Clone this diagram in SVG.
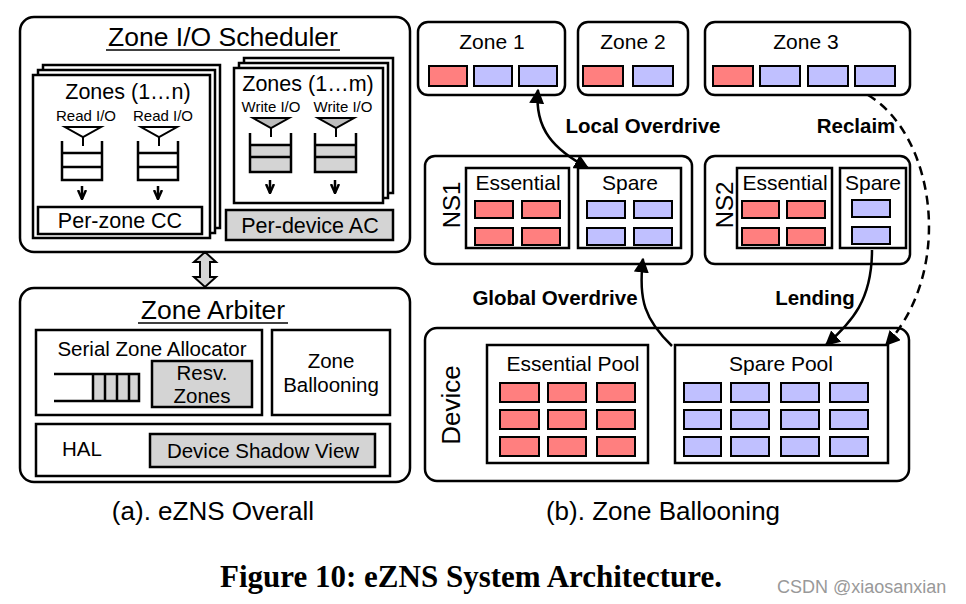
<svg xmlns="http://www.w3.org/2000/svg" width="966" height="604" viewBox="0 0 966 604">
<style>
text{font-family:"Liberation Sans",Arial,sans-serif;fill:#000}
.b{fill:#fff;stroke:#000;stroke-width:2.5}
.g{fill:#d4d4d4;stroke:#000;stroke-width:2.5}
.r{fill:#ff7f7f;stroke:#000;stroke-width:2}
.u{fill:#c0c0ff;stroke:#000;stroke-width:2}
.ln{fill:none;stroke:#000;stroke-width:2.5}
.c{text-anchor:middle}
.bd{font-weight:bold;font-size:20.5px}
</style>
<defs>
<marker id="ah" viewBox="0 0 10 10" refX="9" refY="5" markerWidth="6" markerHeight="6" orient="auto-start-reverse"><path d="M0,0L10,5L0,10z" fill="#000"/></marker>
<marker id="sa" viewBox="0 0 10 10" refX="9" refY="5" markerWidth="4" markerHeight="4" orient="auto"><path d="M0,1L9,5L0,9" fill="none" stroke="#000" stroke-width="2.5"/></marker>
</defs>
<rect width="966" height="604" fill="#fff"/>

<g id="scheduler">
<rect class="b" x="20" y="17" width="390" height="235" rx="14"/>
<text class="c" x="223" y="46" font-size="26.5">Zone I/O Scheduler</text>
<line x1="106" y1="50" x2="340" y2="50" stroke="#000" stroke-width="1.5"/>
<rect class="b" x="43" y="65" width="177" height="163"/>
<rect class="b" x="38" y="70" width="177" height="163"/>
<rect class="b" x="33" y="75" width="177" height="163"/>
<text class="c" x="128" y="99" font-size="21.5">Zones (1…n)</text>
<text class="c" x="86" y="121" font-size="15">Read I/O</text>
<text class="c" x="163" y="121" font-size="15">Read I/O</text>
<path d="M65,127H101L83,137z M83,137V146" fill="#fff" stroke="#000" stroke-width="2"/>
<path d="M141,127H177L159,137z M159,137V146" fill="#fff" stroke="#000" stroke-width="2"/>
<path d="M62,141V180H102V141 M62,153H102 M62,167H102" class="ln"/>
<path d="M138,141V180H178V141 M138,153H178 M138,167H178" class="ln"/>
<line x1="82" y1="186" x2="82" y2="199" class="ln" marker-end="url(#sa)"/>
<line x1="158" y1="186" x2="158" y2="199" class="ln" marker-end="url(#sa)"/>
<rect class="b" x="38" y="207" width="164" height="27"/>
<text class="c" x="120" y="228" font-size="21.5">Per-zone CC</text>
<rect class="b" x="244" y="58" width="149" height="135"/>
<rect class="b" x="239" y="63" width="149" height="135"/>
<rect class="b" x="234" y="68" width="149" height="135"/>
<text class="c" x="308" y="91" font-size="21.5">Zones (1…m)</text>
<text class="c" x="271" y="112" font-size="15">Write I/O</text>
<text class="c" x="343" y="112" font-size="15">Write I/O</text>
<path d="M253,118H289L271,128z M271,128V137" fill="#bdbdbd" stroke="#000" stroke-width="2"/>
<path d="M318,118H354L336,128z M336,128V137" fill="#bdbdbd" stroke="#000" stroke-width="2"/>
<rect x="250" y="145" width="41" height="27" fill="#d4d4d4"/>
<rect x="315" y="145" width="41" height="27" fill="#d4d4d4"/>
<path d="M250,133V172H291V133 M250,145H291 M250,157H291" class="ln"/>
<path d="M315,133V172H356V133 M315,145H356 M315,157H356" class="ln"/>
<line x1="270" y1="180" x2="270" y2="193" class="ln" marker-end="url(#sa)"/>
<line x1="335" y1="180" x2="335" y2="193" class="ln" marker-end="url(#sa)"/>
<rect class="g" x="226" y="210" width="167" height="30"/>
<text class="c" x="310" y="233" font-size="21.5">Per-device AC</text>
</g>

<g id="dblarrow">
<path d="M205,252L216,262H210V277H216L205,287L194,277H200V262H194z" fill="#d4d4d4" stroke="#000" stroke-width="2"/>
</g>

<g id="arbiter">
<rect class="b" x="20" y="288" width="390" height="194" rx="14"/>
<text class="c" x="213" y="319" font-size="26.5">Zone Arbiter</text>
<line x1="138" y1="323" x2="288" y2="323" stroke="#000" stroke-width="1.5"/>
<rect class="b" x="36" y="330" width="226" height="85"/>
<text class="c" x="152" y="356" font-size="20.5">Serial Zone Allocator</text>
<rect x="93" y="374" width="46" height="27" fill="#d4d4d4"/>
<path d="M54,374H139V401H54 M93,374V401 M105,374V401 M117,374V401 M129,374V401" class="ln"/>
<rect class="g" x="152" y="361" width="100" height="46"/>
<text class="c" x="202" y="380" font-size="20.5">Resv.</text>
<text class="c" x="202" y="403" font-size="20.5">Zones</text>
<rect class="b" x="272" y="330" width="118" height="85"/>
<text class="c" x="331" y="368" font-size="20.5">Zone</text>
<text class="c" x="331" y="392" font-size="20.5">Ballooning</text>
<rect class="b" x="36" y="424" width="354" height="52"/>
<text class="c" x="82" y="456" font-size="20.5">HAL</text>
<rect class="g" x="150" y="434" width="225" height="33"/>
<text class="c" x="263" y="458" font-size="20.5">Device Shadow View</text>
</g>

<g id="zone1">
<rect class="b" x="418" y="22" width="147" height="73" rx="10"/>
<text class="c" x="492" y="49" font-size="21">Zone 1</text>
<rect class="r" x="429" y="66" width="38" height="20"/><rect class="u" x="474" y="66" width="38" height="20"/><rect class="u" x="519" y="66" width="38" height="20"/>
</g>
<g id="zone2">
<rect class="b" x="578" y="22" width="110" height="73" rx="10"/>
<text class="c" x="633" y="49" font-size="21">Zone 2</text>
<rect class="r" x="583" y="66" width="40" height="20"/><rect class="u" x="633" y="66" width="40" height="20"/>
</g>
<g id="zone3">
<rect class="b" x="705" y="22" width="205" height="73" rx="10"/>
<text class="c" x="806" y="49" font-size="21">Zone 3</text>
<rect class="r" x="713" y="66" width="40" height="20"/><rect class="u" x="760" y="66" width="40" height="20"/><rect class="u" x="808" y="66" width="40" height="20"/><rect class="u" x="855" y="66" width="40" height="20"/>
</g>

<g id="ns1">
<rect class="b" x="425" y="156" width="267" height="108" rx="10"/>
<text class="c" x="0" y="0" font-size="24" transform="translate(460,205) rotate(-90)">NS1</text>
<rect class="b" x="466" y="168" width="103" height="80"/>
<text class="c" x="518" y="190" font-size="21">Essential</text>
<rect class="r" x="475" y="201" width="38" height="17"/><rect class="r" x="522" y="201" width="38" height="17"/>
<rect class="r" x="475" y="228" width="38" height="17"/><rect class="r" x="522" y="228" width="38" height="17"/>
<rect class="b" x="578" y="168" width="103" height="80"/>
<text class="c" x="630" y="190" font-size="21">Spare</text>
<rect class="u" x="587" y="201" width="38" height="17"/><rect class="u" x="634" y="201" width="38" height="17"/>
<rect class="u" x="587" y="228" width="38" height="17"/><rect class="u" x="634" y="228" width="38" height="17"/>
</g>
<g id="ns2">
<rect class="b" x="705" y="156" width="205" height="108" rx="10"/>
<text class="c" x="0" y="0" font-size="24" transform="translate(733,205) rotate(-90)">NS2</text>
<rect class="b" x="737" y="168" width="95" height="80"/>
<text class="c" x="785" y="190" font-size="21">Essential</text>
<rect class="r" x="742" y="201" width="37" height="17"/><rect class="r" x="787" y="201" width="38" height="17"/>
<rect class="r" x="742" y="228" width="37" height="17"/><rect class="r" x="787" y="228" width="38" height="17"/>
<rect class="b" x="840" y="168" width="66" height="80"/>
<text class="c" x="873" y="190" font-size="21">Spare</text>
<rect class="u" x="852" y="200" width="38" height="17"/><rect class="u" x="852" y="227" width="38" height="17"/>
</g>

<g id="device">
<rect class="b" x="425" y="328" width="484" height="153" rx="12"/>
<text class="c" x="0" y="0" font-size="26" transform="translate(460,405) rotate(-90)">Device</text>
<rect class="b" x="487" y="345" width="161" height="118"/>
<text class="c" x="573" y="371" font-size="21">Essential Pool</text>
<g>
<rect class="r" x="500" y="383" width="39" height="19"/><rect class="r" x="548" y="383" width="38" height="19"/><rect class="r" x="597" y="383" width="38" height="19"/>
<rect class="r" x="500" y="410" width="39" height="19"/><rect class="r" x="548" y="410" width="38" height="19"/><rect class="r" x="597" y="410" width="38" height="19"/>
<rect class="r" x="500" y="437" width="39" height="19"/><rect class="r" x="548" y="437" width="38" height="19"/><rect class="r" x="597" y="437" width="38" height="19"/>
</g>
<rect class="b" x="675" y="345" width="213" height="118"/>
<text class="c" x="781" y="371" font-size="21">Spare Pool</text>
<g>
<rect class="u" x="684" y="383" width="37" height="19"/><rect class="u" x="731" y="383" width="38" height="19"/><rect class="u" x="781" y="383" width="38" height="19"/><rect class="u" x="830" y="383" width="38" height="19"/>
<rect class="u" x="684" y="410" width="37" height="19"/><rect class="u" x="731" y="410" width="38" height="19"/><rect class="u" x="781" y="410" width="38" height="19"/><rect class="u" x="830" y="410" width="38" height="19"/>
<rect class="u" x="684" y="437" width="37" height="19"/><rect class="u" x="731" y="437" width="38" height="19"/><rect class="u" x="781" y="437" width="38" height="19"/><rect class="u" x="830" y="437" width="38" height="19"/>
</g>
</g>

<g id="connectors" fill="none" stroke="#000" stroke-width="2.5">
<path d="M538,90 C534,130 555,150 588,168" marker-start="url(#ah)" marker-end="url(#ah)"/>
<path d="M672,346 C645,320 638,300 643,259" marker-end="url(#ah)"/>
<path d="M872,250 C872,300 852,322 826,345" marker-end="url(#ah)"/>
<path d="M868,95 C935,135 955,270 886,345" stroke-dasharray="9,6" marker-end="url(#ah)"/>
</g>
<text class="c bd" x="643" y="133">Local Overdrive</text>
<text class="c bd" x="856" y="133">Reclaim</text>
<text class="c bd" x="555" y="305">Global Overdrive</text>
<text class="c bd" x="815" y="305">Lending</text>

<text class="c" x="213" y="520" font-size="26">(a). eZNS Overall</text>
<text class="c" x="663" y="520" font-size="26">(b). Zone Ballooning</text>
<text class="c" x="471" y="587" font-size="31" font-weight="bold" style="font-family:'Liberation Serif',serif">Figure 10: eZNS System Architecture.</text>
<text x="777" y="593" font-size="18" style="fill:#999">CSDN @xiaosanxian</text>
</svg>
